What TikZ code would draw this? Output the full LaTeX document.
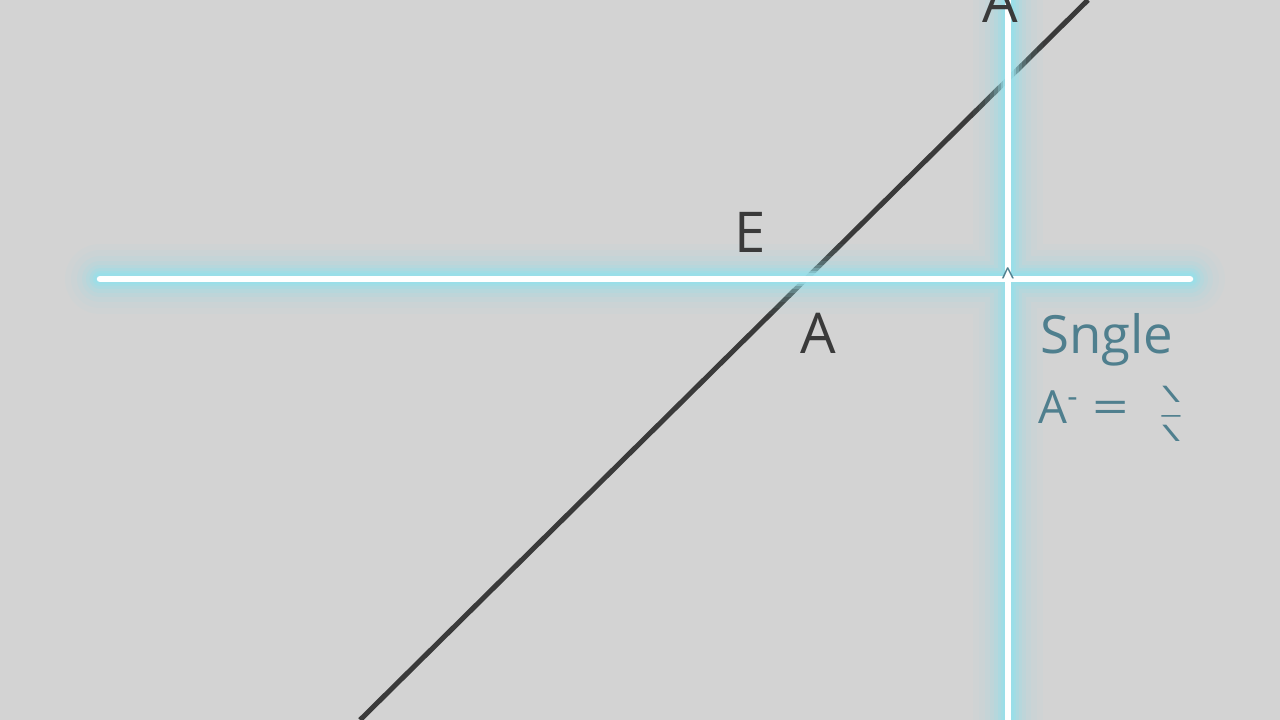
\documentclass[tikz,border=0pt]{standalone}
\usepackage{fontspec}
\usepackage{graphicx}
\setmainfont{Open Sans}
\definecolor{bggrey}{HTML}{D3D3D3}
\definecolor{glowcyan}{HTML}{98E0EA}
\definecolor{inkgrey}{HTML}{3A3A3A}
\definecolor{tealtext}{HTML}{4F7F8E}
\tikzset{
  letter/.style={inkgrey,font=\fontsize{32}{36}\selectfont,inner sep=0pt},
  note/.style={tealtext,font=\fontsize{30}{34}\selectfont,inner sep=0pt},
}

\begin{document}
\begin{tikzpicture}[x=0.2mm,y=-0.2mm]
\useasboundingbox (0,0) rectangle (1280,720);
\clip (0,0) rectangle (1280,720);
\fill[bggrey] (0,0) rectangle (1280,720);

\coordinate (hl) at (100,279);
\coordinate (hr) at (1190,279);
\coordinate (vt) at (1008,-20);
\coordinate (vb) at (1008,740);
\coordinate (dl) at (360,720);
\coordinate (dr) at (1088,0);

\draw[inkgrey,line width=1mm] (dl) -- (dr);

\foreach \w/\o in {70/0.05,58/0.07,46/0.1,36/0.14,28/0.2,21/0.3,15/0.48,11/0.7}
  \draw[glowcyan,line cap=round,line width=\w*0.2mm,opacity=\o] (hl) -- (hr) (vt) -- (vb);
\draw[white,line cap=round,line width=1.3mm] (hl) -- (hr) (vt) -- (vb);

\node[letter] (atop) at (1000,2) {A};
\node[letter] (e) at (750,232) {E};
\node[letter] (a) at (818,333) {A};
\node[tealtext,font=\fontsize{14}{14}\selectfont,inner sep=0pt] (hat) at (1008,277) {\^{}};

\node[note,anchor=base west] (single) at (1040,354) {Sngle};
\node[note,anchor=base west,font=\fontsize{26}{30}\selectfont] (eq) at (1038,423)
  {A\textsuperscript{-}\hspace{0.3em}\scalebox{1.4}[1]{=}};
\node[note,align=center,font=\fontsize{13}{11}\selectfont] (sym) at (1171,414)
  {\scalebox{2.2}[1]{\textbackslash}\\\scalebox{2}[1]{–}\\\scalebox{2.2}[1]{\textbackslash}};
\end{tikzpicture}
\end{document}
